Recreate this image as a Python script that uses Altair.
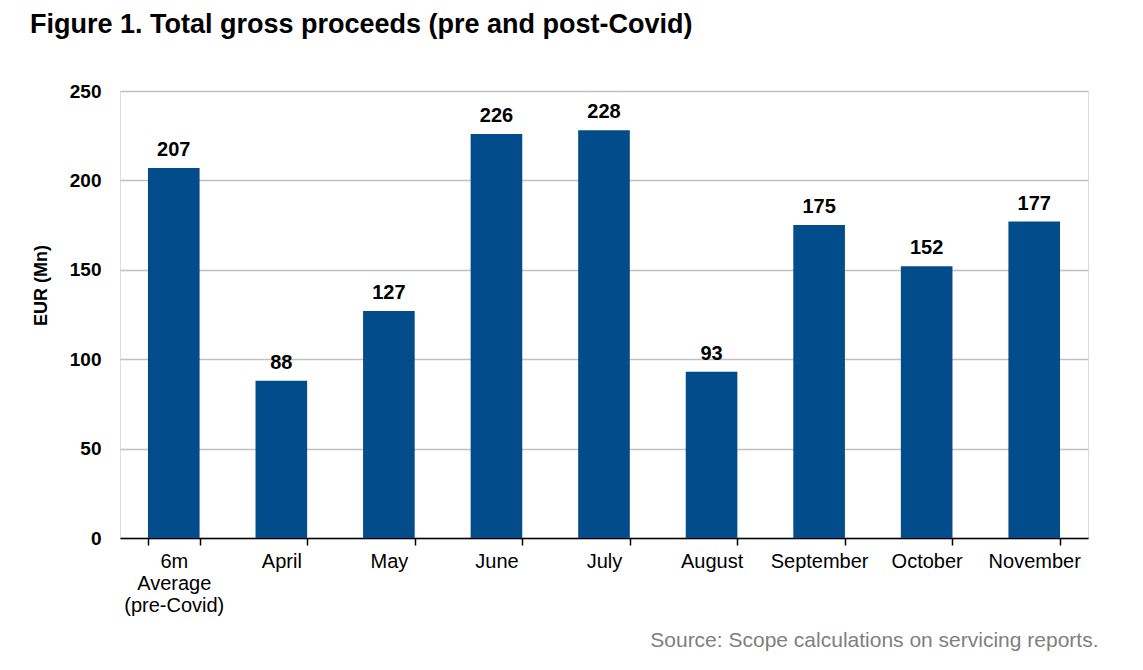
import altair as alt
import pandas as pd

categories = ["6m\nAverage\n(pre-Covid)", "April", "May", "June", "July",
              "August", "September", "October", "November"]
values = [207, 88, 127, 226, 228, 93, 175, 152, 177]
y_ticks = [0, 50, 100, 150, 200, 250]

title_text = "Figure 1. Total gross proceeds (pre and post-Covid)"
y_title = "EUR (Mn)"
source_text = "Source: Scope calculations on servicing reports."

df = pd.DataFrame({"month": categories, "proceeds": values})

FONT = "Liberation Sans"
BAR = "#034c8c"

x = alt.X(
    "month:N",
    sort=categories,
    scale=alt.Scale(paddingInner=0.52, paddingOuter=0.26),
    axis=alt.Axis(
        title=source_text,
        titleX=978,
        titleY=108,
        titleAlign="right",
        titleBaseline="alphabetic",
        titleFont=FONT,
        titleFontSize=21,
        titleFontWeight="normal",
        titleColor="#7f7f7f",
        labelAngle=0,
        labelFont=FONT,
        labelFontSize=20,
        labelColor="#000000",
        labelPadding=6,
        labelLineHeight=22,
        labelExpr="split(datum.label, '\\n')",
        tickBand="extent",
        ticks=True,
        tickSize=7,
        tickColor="#000000",
        tickWidth=1.5,
        domainColor="#000000",
        domainWidth=1.5,
        grid=False,
    ),
)

y = alt.Y(
    "proceeds:Q",
    scale=alt.Scale(domain=[0, 250], nice=False),
    axis=alt.Axis(
        title=y_title,
        titleX=-79,
        titleY=194,
        titleAlign="center",
        titleBaseline="middle",
        titleFont=FONT,
        titleFontSize=18,
        titleFontWeight="bold",
        titleColor="#000000",
        values=y_ticks,
        labelFont=FONT,
        labelFontSize=19,
        labelFontWeight="bold",
        labelColor="#000000",
        labelPadding=19,
        ticks=False,
        domain=False,
        grid=True,
        gridColor="#c0c0c0",
        gridWidth=1.5,
    ),
)

bars = alt.Chart(df).mark_bar(color=BAR).encode(x=x, y=y)

labels = alt.Chart(df).mark_text(
    font=FONT, fontSize=20, fontWeight="bold", color="#000000",
    baseline="alphabetic", align="center", dy=-12,
).encode(x=alt.X("month:N", sort=categories), y="proceeds:Q", text="proceeds:Q")

chart = (
    alt.layer(bars, labels)
    .properties(
        width=968,
        height=447,
        autosize=alt.AutoSizeParams(type="none"),
        padding={"left": 112, "top": 83, "right": 30, "bottom": 115},
        title=alt.TitleParams(
            text=title_text,
            anchor="start",
            frame="group",
            dx=-90,
            offset=43,
            font=FONT,
            fontSize=27,
            fontWeight="bold",
            color="#000000",
        ),
    )
    .configure_view(stroke=None)
    .configure(background="#ffffff")
)

chart.save("out.html", embed_options={"renderer": "svg", "actions": False})
